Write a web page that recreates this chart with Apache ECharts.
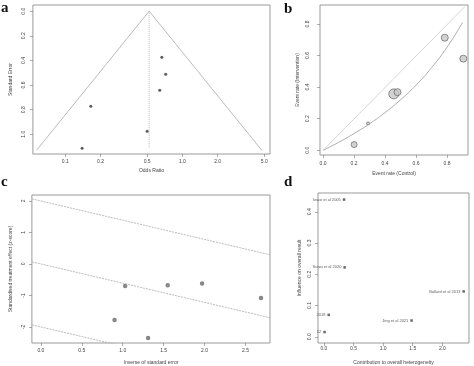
<!DOCTYPE html>
<html><head><meta charset="utf-8">
<script src="https://cdn.jsdelivr.net/npm/echarts@6/dist/echarts.min.js"></script>
<style>html,body{margin:0;padding:0;background:#fff}#c{width:474px;height:366px}</style>
</head><body><div id="c"></div>
<script>
// Panel a: funnel plot
const funnelOR = [0.667, 0.72, 0.64, 0.165, 0.50, 0.139];
const funnelSE = [0.374, 0.512, 0.642, 0.772, 0.976, 1.114];
const pooledOR = 0.52;
const funnelMaxSE = 1.13;
const aXTicks = [0.1, 0.2, 0.5, 1.0, 2.0, 5.0];
const aYTicks = [0.0, 0.2, 0.4, 0.6, 0.8, 1.0];

// Panel b: L'Abbe plot
const controlRate = [0.20, 0.29, 0.456, 0.48, 0.785, 0.905];
const interventionRate = [0.036, 0.17, 0.357, 0.368, 0.713, 0.58];
const bubbleSize = [6, 3, 10, 7, 7, 7];
const curveX = [0, 0.1, 0.2, 0.3, 0.4, 0.5, 0.6, 0.7, 0.8, 0.9];
const curveY = [0, 0.05, 0.106, 0.168, 0.239, 0.32, 0.413, 0.523, 0.653, 0.809];
const bTicks = [0.0, 0.2, 0.4, 0.6, 0.8];

// Panel c: Galbraith plot
const invSE = [1.03, 1.55, 1.97, 0.90, 1.31, 2.69];
const zScore = [-0.70, -0.68, -0.62, -1.78, -2.35, -1.08];
const galbraithSlope = -0.61;
const cXTicks = [0.0, 0.5, 1.0, 1.5, 2.0, 2.5];
const cYTicks = [2, 1, 0, -1, -2];

// Panel d: Baujat plot
const studyNames = ["Iwasi et al 2005", "Sunai et al 2020", "Ballard et al 2013", "2018", "Jing et al 2021", "12"];
const heterogeneity = [0.34, 0.35, 2.36, 0.08, 1.48, 0.01];
const influence = [0.439, 0.222, 0.145, 0.070, 0.052, 0.015];
const dXTicks = [0.0, 0.5, 1.0, 1.5, 2.0];
const dYTicks = [0.0, 0.1, 0.2, 0.3, 0.4];

const L10 = v => Math.log10(v);
const tickCol = '#444', boxCol = '#999', lineCol = '#aaa';
const FS = 5;

function xAx(idx, min, max, ticks, name, gap, fmt, lblMargin) {
  return {
    gridIndex: idx, type: 'value', min: min, max: max, position: 'bottom',
    name: name, nameLocation: 'middle', nameGap: gap,
    nameTextStyle: {fontSize: FS, color: tickCol, fontFamily: 'Liberation Sans'},
    axisLine: {show: false, onZero: false},
    axisTick: {show: true, customValues: ticks, length: 3, lineStyle: {color: '#777', width: 0.6}},
    axisLabel: {show: true, customValues: ticks, fontSize: FS, color: tickCol, margin: lblMargin,
      fontFamily: 'Liberation Sans', formatter: fmt},
    splitLine: {show: false}
  };
}
function yAx(idx, min, max, ticks, name, gap, fmt, inverse, lblMargin) {
  return {
    gridIndex: idx, type: 'value', min: min, max: max, inverse: !!inverse, position: 'left',
    name: name, nameLocation: 'middle', nameGap: gap, nameRotate: 90,
    nameTextStyle: {fontSize: FS, color: tickCol, fontFamily: 'Liberation Sans'},
    axisLine: {show: false, onZero: false},
    axisTick: {show: true, customValues: ticks, length: 3, lineStyle: {color: '#777', width: 0.6}},
    axisLabel: {show: true, customValues: ticks, fontSize: FS, color: tickCol, rotate: 90, margin: lblMargin,
      fontFamily: 'Liberation Sans', formatter: fmt},
    splitLine: {show: false}
  };
}

const f1 = v => (Math.round(v * 10) / 10).toFixed(1);
const funnelHalf = 1.96 * funnelMaxSE / Math.LN10;
const pooledL = L10(pooledOR);

const cMin = -0.11, cMax = 2.80;

const option = {
  animation: false,
  backgroundColor: '#fff',
  grid: [
    {left: 29, top: 5, width: 241, height: 149, show: true, borderColor: boxCol, borderWidth: 1},
    {left: 320, top: 5, width: 148, height: 150, show: true, borderColor: boxCol, borderWidth: 1},
    {left: 29, top: 195, width: 241, height: 148, show: true, borderColor: boxCol, borderWidth: 1},
    {left: 318, top: 193, width: 151, height: 151, show: true, borderColor: boxCol, borderWidth: 1}
  ],
  xAxis: [
    xAx(0, -1.277, 0.748, aXTicks.map(L10), 'Odds Ratio', 14, v => f1(Math.pow(10, v)), 5),
    xAx(1, -0.02, 0.935, bTicks, 'Event rate (Control)', 16, f1, 6),
    xAx(2, cMin, cMax, cXTicks, 'Inverse of standard error', 17, f1, 5),
    xAx(3, -0.1, 2.45, dXTicks, 'Contribution to overall heterogeneity', 17, f1, 3)
  ],
  yAxis: [
    yAx(0, -0.05, 1.16, aYTicks, 'Standard Error', 16, f1, true, 7),
    yAx(1, -0.03, 0.92, bTicks, 'Event rate (Intervention)', 20, f1, false, 10),
    yAx(2, -2.51, 2.19, cYTicks, 'Standardised treatment effect (z-score)', 16, v => String(v), false, 6),
    yAx(3, -0.02, 0.46, dYTicks, 'Influence on overall result', 16, f1, false, 6)
  ],
  series: [
    // a
    {type: 'line', xAxisIndex: 0, yAxisIndex: 0, symbol: 'none', silent: true,
      data: [[pooledL - funnelHalf, funnelMaxSE], [pooledL, 0], [pooledL + funnelHalf, funnelMaxSE]],
      lineStyle: {color: lineCol, width: 0.8}},
    {type: 'line', xAxisIndex: 0, yAxisIndex: 0, symbol: 'none', silent: true,
      data: [[pooledL, 0], [pooledL, 1.11]],
      lineStyle: {color: lineCol, width: 0.8, type: [1, 1]}},
    {type: 'scatter', xAxisIndex: 0, yAxisIndex: 0, symbol: 'circle', symbolSize: 3,
      itemStyle: {color: '#333'},
      data: funnelOR.map((o, i) => [L10(o), funnelSE[i]])},
    // b
    {type: 'line', xAxisIndex: 1, yAxisIndex: 1, symbol: 'none', silent: true,
      data: [[0, 0], [0.915, 0.91]], lineStyle: {color: '#ccc', width: 0.8}},
    {type: 'line', xAxisIndex: 1, yAxisIndex: 1, symbol: 'none', silent: true, smooth: true,
      data: curveX.map((x, i) => [x, curveY[i]]), lineStyle: {color: '#999', width: 0.8}},
    {type: 'scatter', xAxisIndex: 1, yAxisIndex: 1, symbol: 'circle',
      symbolSize: (v, p) => bubbleSize[p.dataIndex],
      itemStyle: {color: '#c8c8c8', borderColor: '#555', borderWidth: 0.8},
      data: controlRate.map((x, i) => [x, interventionRate[i]])},
    // c
    {type: 'line', xAxisIndex: 2, yAxisIndex: 2, symbol: 'none', silent: true,
      data: [[cMin, galbraithSlope * cMin + 2], [cMax, galbraithSlope * cMax + 2]],
      lineStyle: {color: lineCol, width: 0.8, type: [2, 1]}},
    {type: 'line', xAxisIndex: 2, yAxisIndex: 2, symbol: 'none', silent: true,
      data: [[cMin, galbraithSlope * cMin], [cMax, galbraithSlope * cMax]],
      lineStyle: {color: lineCol, width: 0.8, type: [2, 1]}},
    {type: 'line', xAxisIndex: 2, yAxisIndex: 2, symbol: 'none', silent: true,
      data: [[cMin, galbraithSlope * cMin - 2], [cMax, galbraithSlope * cMax - 2]],
      lineStyle: {color: lineCol, width: 0.8, type: [2, 1]}},
    {type: 'scatter', xAxisIndex: 2, yAxisIndex: 2, symbol: 'emptyCircle', symbolSize: 2.5,
      itemStyle: {color: '#666', borderColor: '#666', borderWidth: 0.6},
      data: invSE.map((x, i) => [x, zScore[i]])},
    // d
    {type: 'scatter', xAxisIndex: 3, yAxisIndex: 3, symbol: 'rect', symbolSize: 2.5,
      itemStyle: {color: '#444'},
      label: {show: true, position: 'left', distance: 2, fontSize: 4, color: '#333',
        fontFamily: 'Liberation Sans', formatter: p => studyNames[p.dataIndex]},
      data: heterogeneity.map((x, i) => [x, influence[i]])}
  ],
  graphic: [
    {type: 'text', left: 1, top: 1, style: {text: 'a', font: 'bold 15px "Liberation Serif"', fill: '#111'}},
    {type: 'text', left: 284, top: 2, style: {text: 'b', font: 'bold 15px "Liberation Serif"', fill: '#111'}},
    {type: 'text', left: 1, top: 175, style: {text: 'c', font: 'bold 15px "Liberation Serif"', fill: '#111'}},
    {type: 'text', left: 284, top: 175, style: {text: 'd', font: 'bold 15px "Liberation Serif"', fill: '#111'}}
  ]
};
const chart = echarts.init(document.getElementById('c'), null, {renderer: 'canvas'});
chart.setOption(option);
</script></body></html>
